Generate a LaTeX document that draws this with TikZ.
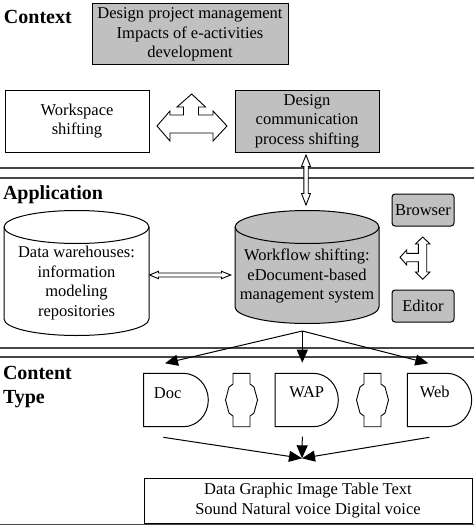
\documentclass[tikz,border=0pt]{standalone}
\usepackage{fontspec}
\setmainfont{Liberation Serif}
\usetikzlibrary{arrows.meta}
\definecolor{boxgray}{RGB}{192,192,192}
\definecolor{sepgray}{RGB}{70,70,70}
\begin{document}
\begin{tikzpicture}[x=1pt,y=1pt,
  every node/.style={inner sep=0pt, outer sep=0pt},
  txt/.style={font=\fontsize{16.5}{19.5}\selectfont, align=center},
  hd/.style={font=\fontsize{20}{23.5}\selectfont\bfseries, anchor=base west, align=left},
  box/.style={txt, draw=black, line width=1pt},
  gbox/.style={box, fill=boxgray},
  sep/.style={draw=sepgray, line width=1.2pt},
  blk/.style={draw=black, line width=0.9pt, fill=white, line join=miter},
  cyl/.style={draw=black, line width=1pt},
  dsh/.style={draw=black, line width=1pt},
  arr/.style={draw=black, line width=1pt, -{Triangle[length=13pt,width=11pt]}}
]
\useasboundingbox (0,0) rectangle (474,-527);

% separator lines
\foreach \yy in {168,178,348,357,524.5}
  \draw[sep] (0,-\yy) -- (474,-\yy);

% headings
\node[hd] (hctx) at (4,-23.3) {Context};
\node[hd] (happ) at (3,-199.3) {Application};
\node[hd] (hct) at (3,-403.3) {Content\\Type};

% context boxes
\node[gbox, minimum width=196pt, minimum height=61pt] (ctx) at (190,-34.5)
  {Design project management\\Impacts of e-activities\\development};
\node[box, minimum width=144pt, minimum height=62pt] (ws) at (77,-121)
  {Workspace\\shifting};
\node[gbox, minimum width=144pt, minimum height=62pt] (dcp) at (307,-121)
  {Design\\communication\\process shifting};

% three-way block arrow
\draw[blk] (157,-126) -- (170,-111) -- (170,-115) -- (183.5,-115) -- (183.5,-107)
  -- (177,-107) -- (191.7,-94) -- (205.5,-107) -- (198.5,-107) -- (198.5,-115)
  -- (213,-115) -- (213,-111) -- (227,-126) -- (213,-141) -- (213,-133)
  -- (170,-133) -- (170,-141) -- cycle;

% cylinders
\draw[cyl] (4,-227) -- (4,-319) arc[start angle=180,end angle=360,x radius=72.5,y radius=16.5]
  -- (149,-227) arc[start angle=0,end angle=180,x radius=72.5,y radius=16.5] -- cycle;
\draw[cyl] (4,-227) arc[start angle=180,end angle=360,x radius=72.5,y radius=16.5];
\node[txt] (dw) at (76.5,-283) {Data warehouses:\\information\\modeling\\repositories};

\draw[cyl, fill=boxgray] (235,-227) -- (235,-307) arc[start angle=180,end angle=360,x radius=72,y radius=16.5]
  -- (379,-227) arc[start angle=0,end angle=180,x radius=72,y radius=16.5] -- cycle;
\draw[cyl] (235,-227) arc[start angle=180,end angle=360,x radius=72,y radius=16.5];
\node[txt] (wf) at (307,-276) {Workflow shifting:\\eDocument-based\\management system};

% vertical block double arrow (design communication <-> workflow)
\draw[blk] (306,-155) -- (310.5,-166.5) -- (308.2,-166.5) -- (308.2,-193.5) -- (310.5,-193.5)
  -- (306,-205) -- (301.5,-193.5) -- (303.8,-193.5) -- (303.8,-166.5) -- (301.5,-166.5) -- cycle;

% horizontal block double arrow (data warehouses <-> workflow)
\draw[blk] (149.5,-275) -- (158.5,-271.3) -- (158.5,-273) -- (221.5,-273) -- (221.5,-271.3)
  -- (230.7,-275) -- (221.5,-278.7) -- (221.5,-277) -- (158.5,-277) -- (158.5,-278.7) -- cycle;

% browser / editor
\node[gbox, rounded corners=3pt, minimum width=62pt, minimum height=32pt] (br) at (423,-210) {Browser};
\node[gbox, rounded corners=3pt, minimum width=62pt, minimum height=32pt] (ed) at (423,-306) {Editor};

% T block arrow
\draw[blk] (422.7,-237) -- (430,-244) -- (426.7,-244) -- (426.7,-272) -- (430,-272)
  -- (422.7,-279.3) -- (415.5,-272) -- (418.3,-272) -- (418.3,-261.7) -- (406.7,-261.7)
  -- (406.7,-265) -- (400,-257.3) -- (406.7,-250) -- (406.7,-253.3) -- (418.3,-253.3)
  -- (418.3,-244) -- (415.5,-244) -- cycle;

% content type shapes
\draw[dsh] (143.5,-373.3) -- (183.3,-373.3) arc[start angle=90,end angle=-90,x radius=25,y radius=26.7] -- (143.5,-426.7) -- cycle;
\draw[dsh] (275,-373.3) -- (313.3,-373.3) arc[start angle=90,end angle=-90,x radius=25,y radius=26.7] -- (275,-426.7) -- cycle;
\draw[dsh] (407.3,-373.3) -- (446.7,-373.3) arc[start angle=90,end angle=-90,x radius=25,y radius=26.7] -- (407.3,-426.7) -- cycle;
\node[txt] (doc) at (167.7,-393.3) {Doc};
\node[txt] (wap) at (306.7,-392) {WAP};
\node[txt] (web) at (434.7,-392) {Web};

% cross block arrows
\foreach \cx in {241.5,372.5}{
  \draw[blk] (\cx-8.5,-373.3) -- (\cx+8.5,-373.3) -- (\cx+8.5,-384) -- (\cx+12.5,-387)
    -- (\cx+16,-400) -- (\cx+12.5,-413) -- (\cx+8.5,-416) -- (\cx+8.5,-426.7)
    -- (\cx-8.5,-426.7) -- (\cx-8.5,-416) -- (\cx-12.5,-413) -- (\cx-16,-400)
    -- (\cx-12.5,-387) -- (\cx-8.5,-384) -- cycle;
}

% fan-out arrows
\coordinate (apex) at (302.3,-331);
\coordinate (tdoc) at (165,-363.3);
\coordinate (twap) at (302.3,-362.7);
\coordinate (tweb) at (428.3,-363.3);
\draw[arr] (apex) -- (tdoc);
\draw[arr] (apex) -- (twap);
\draw[arr] (apex) -- (tweb);

% converging arrows
\coordinate (sdoc) at (163.3,-437.3);
\coordinate (swap) at (302.3,-436.7);
\coordinate (sweb) at (429.3,-437.3);
\coordinate (meet) at (302,-458.3);
\draw[arr] (sdoc) -- (meet);
\draw[arr] (sweb) -- (meet);
\draw[arr] (swap) -- (meet);

% content box
\node[box, minimum width=328pt, minimum height=45pt] (ct) at (308,-500.5)
  {Data Graphic Image Table Text\\Sound Natural voice Digital voice};
\end{tikzpicture}
\end{document}
